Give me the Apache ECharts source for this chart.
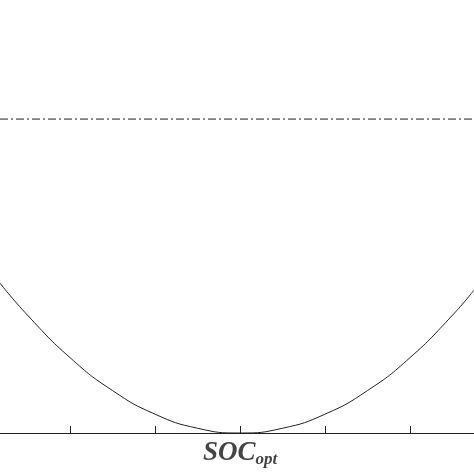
<!DOCTYPE html><html><head><meta charset="utf-8">
<script src="https://cdn.jsdelivr.net/npm/echarts@6/dist/echarts.min.js"></script>
<style>html,body{margin:0;background:#fff}#c{width:474px;height:474px}</style></head><body><div id="c"></div>
<script>
const xs=[0.176,0.5,1,1.5,2,2.5,3,3.5,4,4.5,5,5.5,5.753];
const costY=[0.346,0.272,0.174,0.098,0.0435,0.011,0,0.011,0.0435,0.098,0.174,0.272,0.330];
const limitY=0.725;
const tickVals=[1,2,3,4,5];
const labelVal=3;
const chart=echarts.init(document.getElementById('c'));
chart.setOption({
 animation:false,
 grid:{left:0,right:0,top:0,bottom:41},
 xAxis:{type:'value',min:0.176,max:5.753,splitLine:{show:false},
  axisLine:{lineStyle:{color:'#222',width:1}},
  axisTick:{inside:true,length:7,lineStyle:{color:'#222'},customValues:tickVals},
  axisLabel:{customValues:[labelVal],margin:6,formatter:()=>'{a|SOC}{b|opt}',
   rich:{a:{fontFamily:'Liberation Serif',fontStyle:'italic',fontWeight:'bold',fontSize:27,color:'#444'},
         b:{fontFamily:'Liberation Serif',fontStyle:'italic',fontWeight:'bold',fontSize:17,color:'#444',verticalAlign:'bottom',padding:[12,0,0,0]}}}},
 yAxis:{type:'value',min:0,max:1,show:false},
 series:[
  {type:'line',data:xs.map((x,i)=>[x,costY[i]]),smooth:true,symbol:'none',lineStyle:{color:'#222',width:1}},
  {type:'line',data:[[0.176,limitY],[5.753,limitY]],symbol:'none',lineStyle:{color:'#222',width:1,type:[8,3,2,3]}}
 ]
});
</script></body></html>
